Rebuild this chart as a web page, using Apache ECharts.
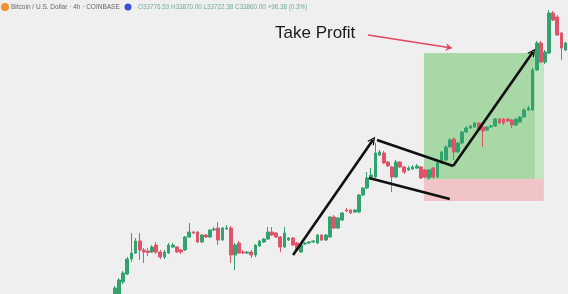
<!DOCTYPE html>
<html><head><meta charset="utf-8">
<script src="https://cdn.jsdelivr.net/npm/echarts@6/dist/echarts.min.js"></script>
<style>html,body{margin:0;padding:0;background:#efefef}#c{width:568px;height:294px}</style>
</head><body><div id="c"></div>
<script>
// candle values (price units)
const opens  = [-6,-6,12,20,35,41,53,44,43,42,49,42,37,41,47,47,44,44,57,62,62,52,59,57,64,66,54,65,66,39,51,42,41,42,39,48,52,55,62,61,57,47,54,56,51,42,50,51,52,51,59,54,57,77,66,74,84,84,82,82,99,106,117,117,139,141,132,127,117,132,127,124,125,126,127,124,116,126,117,131,134,147,155,142,151,162,166,167,171,167,164,167,168,175,175,175,174,169,172,177,184,184,224,251,232,241,281,277,261,244];
const closes = [6,14,21,35,41,53,44,42,41.5,47,42,37,42,49,49,42,42,57,62,61,52,59,57,64,65,54,66,66,39,49,41,41,42,39,49,53,55,62,59,57,47,61,56,49,44,49,51,52,53,59,54,59,77,66,76,81,83,81,84,99,106,116,119,141,142,131,128,117,132,127,122,126,127,128,116,117,124,117,131,142,147,154,142,151,162,166,168,171,164,163,167,168,175,171,171,173,169,175,177,184,186,224,251,232,242,281,274,259,246,251];
const lows   = [-8,-8,10,19,32,40,34,31,38,41,40,35,35,40,46,41,40,43,56,60,51,51,56,56,63,49,53,64,31,24,40,40,40,36,37,47,51,54,58,56,42,46,53,48,42,41,49,50,51,50,53,53,56,65,65,73,82,80,81,81,98,105,114,116,138,130,127,102,116,126,120,123,124,125,115,116,114,115,116,130,133,146,134,141,150,161,165,166,163,147,163,166,167,170,169,172,166,168,171,176,183,183,223,231,230,240,273,258,234,243];
const highs  = [8,16,23,37,61,56,61,46,46,49,52,44,44,51,51,48,45,58,71,63,63,60,60,65,67,72,67,69,68,51,53,44,43,44,50,54,56,67,67,62,58,67,57,57,52,50,52,53,54,60,60,60,78,79,77,82,86,85,85,100,107,122,126,151,144,143,133,128,134,133,128,128,129,130,128,125,125,127,132,143,149,156,157,152,163,168,169,172,172,168,168,169,176,176,176,176,175,176,178,186,188,226,253,253,244,284,283,279,262,252];
const categories = opens.map((_, i) => String(i));

// annotation paths in [candle index, price]
const impulseLeg   = [[43.1, 39], [62.4, 154]];
const flagTopLeg   = [[63.4, 154], [81.8, 128], [101.1, 242]];
const flagBottom   = [[61.45, 116], [81, 95]];
const tpPointer    = [[61.2, 259], [81.5, 246]];
const takeProfitZone = [[74.75, 241], [103.75, 115]];
const targetStrip    = [[101.6, 241], [103.75, 115]];
const stopLossZone   = [[74.75, 115], [103.75, 93]];
const labelText = 'Take Profit';

const N = opens.length;
const candleData = opens.map((o, i) => [o, closes[i], lows[i], highs[i]]);
const chart = echarts.init(document.getElementById('c'), null, {renderer: 'canvas'});
const UP = '#32a36f', DOWN = '#e0546a';
const CHEVRON = 'path://M0,10 L5,0 L10,10 L8.2,10 L5,3.6 L1.8,10 Z';
chart.setOption({
  backgroundColor: '#efefef',
  animation: false,
  grid: {left: 112.8, width: 454.85, top: 0, bottom: 0},
  xAxis: [
    {type: 'category', data: categories, show: false, boundaryGap: true},
    {type: 'value', min: -0.5, max: N - 0.5, show: false}
  ],
  yAxis: {type: 'value', min: 0, max: 294, show: false},
  series: [
    {
      type: 'line', xAxisIndex: 1, data: [], silent: true,
      markArea: {
        silent: true, z: 1,
        data: [
          [{coord: takeProfitZone[0], itemStyle: {color: '#a7d8a5'}}, {coord: takeProfitZone[1]}],
          [{coord: targetStrip[0], itemStyle: {color: '#c4e6c2'}}, {coord: targetStrip[1]}],
          [{coord: stopLossZone[0], itemStyle: {color: '#f1c5c8'}}, {coord: stopLossZone[1]}]
        ]
      }
    },
    {
      type: 'candlestick', data: candleData, z: 2, barWidth: '78%',
      itemStyle: {color: UP, color0: DOWN, borderColor: UP, borderColor0: DOWN, borderWidth: 1}
    },
    {
      type: 'lines', coordinateSystem: 'cartesian2d', xAxisIndex: 1, z: 3,
      symbol: ['none', CHEVRON], symbolSize: [10, 8],
      lineStyle: {color: '#111', width: 2.6, opacity: 1},
      data: [
        {coords: impulseLeg},
        {coords: [flagTopLeg[1], flagTopLeg[2]]}
      ]
    },
    {
      type: 'lines', coordinateSystem: 'cartesian2d', xAxisIndex: 1, z: 3,
      symbol: ['none', 'none'],
      lineStyle: {color: '#111', width: 2.6, opacity: 1},
      data: [{coords: [flagTopLeg[0], flagTopLeg[1]]}, {coords: flagBottom}]
    },
    {
      type: 'lines', coordinateSystem: 'cartesian2d', xAxisIndex: 1, z: 3,
      symbol: ['none', 'arrow'], symbolSize: 6,
      lineStyle: {color: '#e5485c', width: 1.6, opacity: 1},
      data: [{coords: tpPointer}]
    }
  ],
  graphic: [
    {type: 'text', left: 275, top: 25, style: {text: labelText, fontFamily: 'Liberation Sans', fontSize: 17, fill: '#1a1a1a'}},
    {type: 'circle', shape: {cx: 5, cy: 7, r: 4}, style: {fill: '#f0932b'}},
    {type: 'text', left: 11, top: 4, style: {text: 'Bitcoin / U.S. Dollar · 4h · COINBASE', fontFamily: 'Liberation Sans', fontSize: 6.5, fill: '#666'}},
    {type: 'circle', shape: {cx: 128, cy: 7, r: 3.5}, style: {fill: '#3d4fd6'}},
    {type: 'text', left: 138, top: 4.5, style: {text: 'O33776.53 H33870.00 L33722.38 C33860.00 +96.38 (0.3%)', fontFamily: 'Liberation Sans', fontSize: 6.3, fill: '#6fae92'}}
  ]
});
</script></body></html>
